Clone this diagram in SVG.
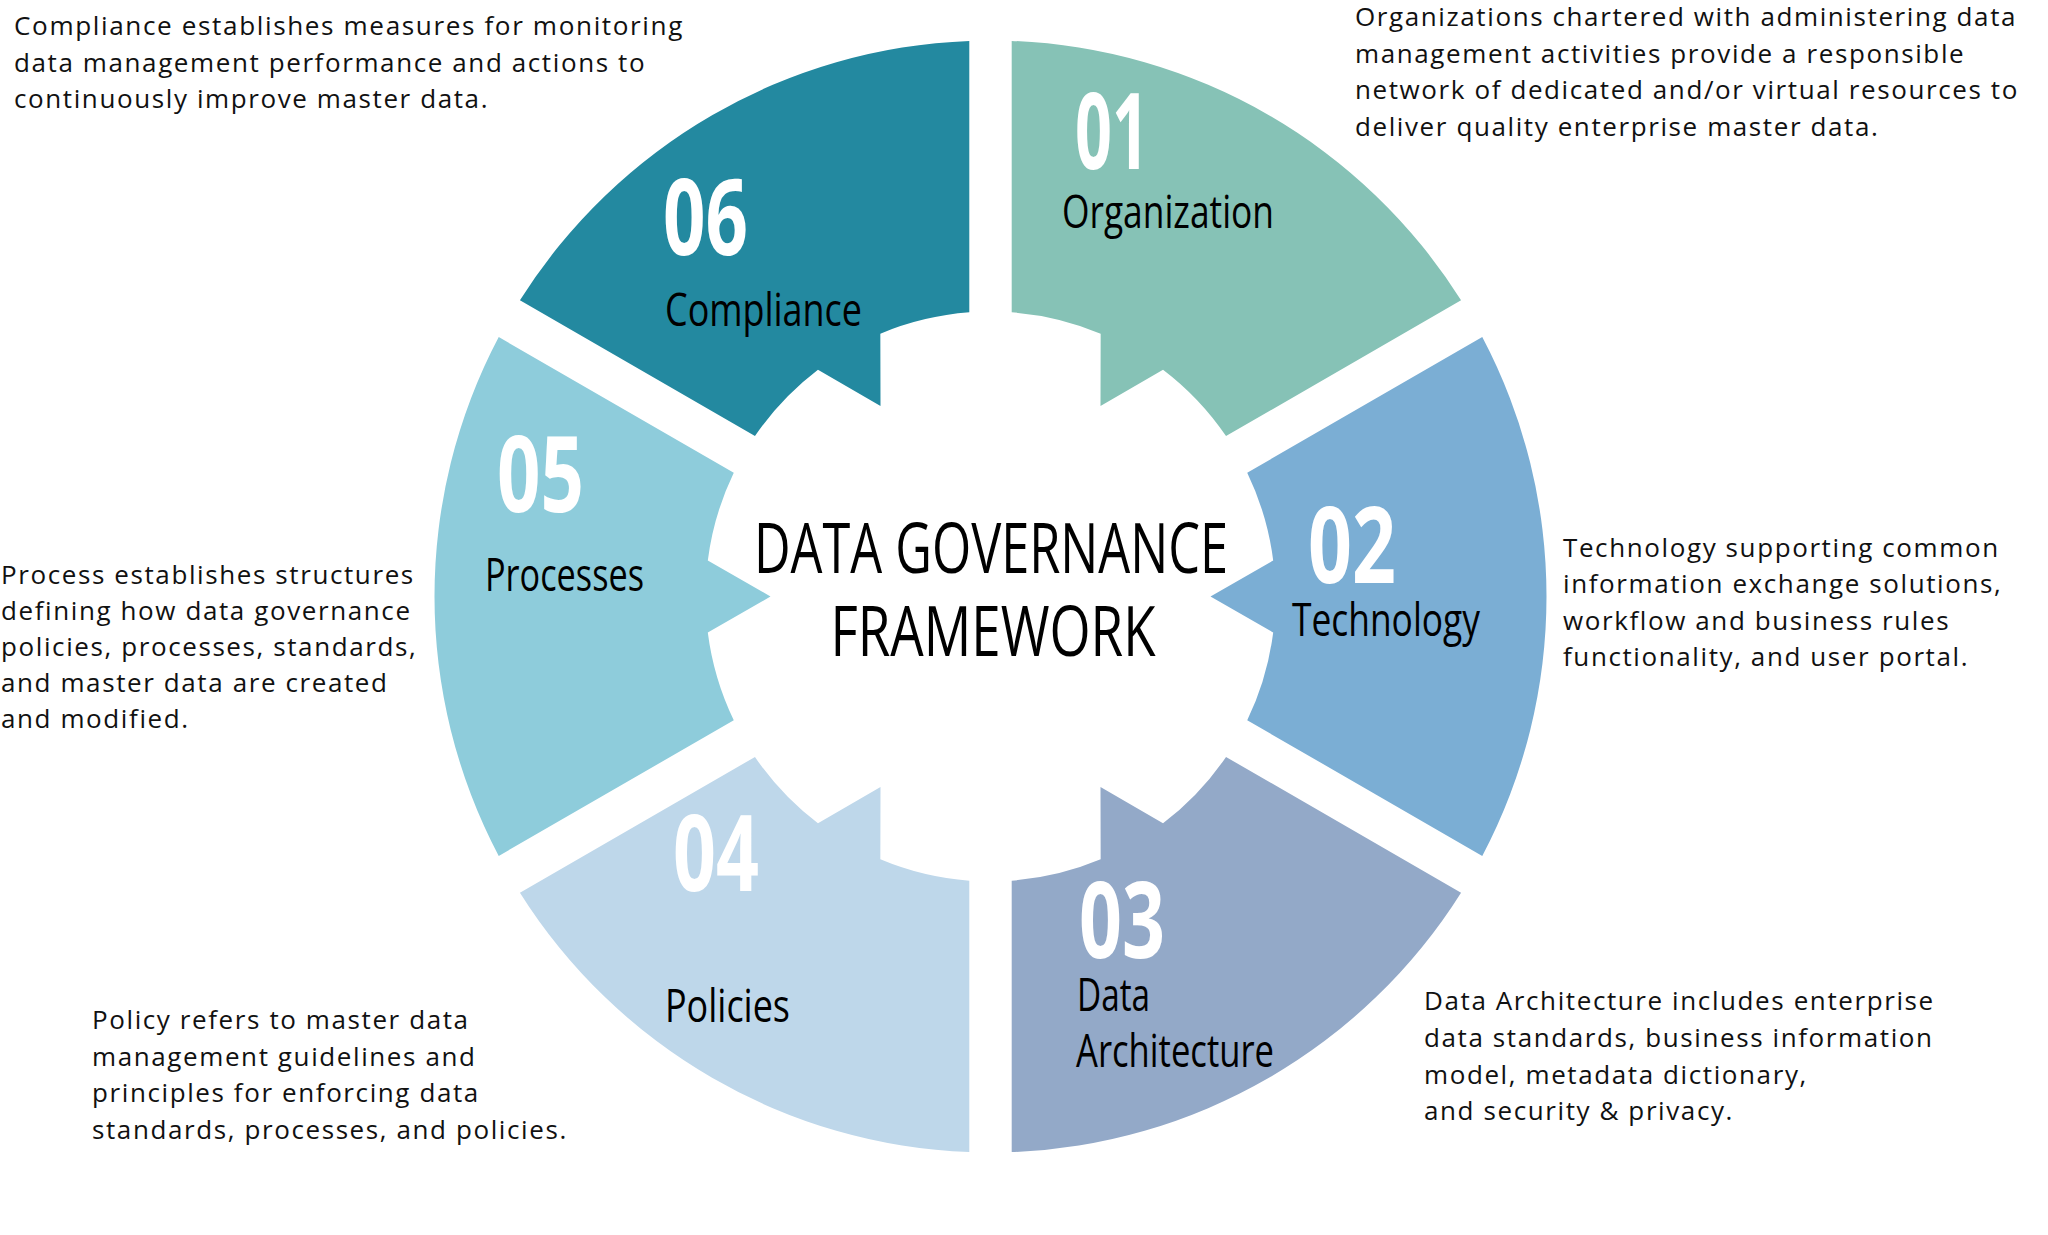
<svg xmlns="http://www.w3.org/2000/svg" width="2048" height="1235" viewBox="0 0 2048 1235">
  <style>
    .seg { stroke: none; }
    .num { font-family: "Open Sans", "Liberation Sans", sans-serif; font-weight: 700; font-size: 105px; fill: #ffffff; }
    .lbl { font-family: "Open Sans", "Liberation Sans", sans-serif; font-weight: 400; font-size: 46px; fill: #000000; }
    .title { font-family: "Open Sans", "Liberation Sans", sans-serif; font-weight: 400; font-size: 70px; fill: #000000; }
    .desc { font-family: "Open Sans", "Liberation Sans", sans-serif; font-weight: 400; font-size: 26px; letter-spacing: 1.6px; fill: #111111; }
  </style>
  <rect x="0" y="0" width="2048" height="1235" fill="#ffffff"/>

  <g id="node-01">
    <path class="seg" fill="#86C2B6" d="M 1461.06 300.34 A 556 556 0 0 0 1011.7 40.9 L 1011.7 312.29 A 285 285 0 0 1 1100.67 333.67 L 1100.5 405.97 L 1163.03 369.67 A 285 285 0 0 1 1226.03 436.04 Z"/>
    <text class="num" x="1075" y="169" textLength="74" lengthAdjust="spacingAndGlyphs">01</text>
    <text class="lbl" x="1062" y="228" textLength="212" lengthAdjust="spacingAndGlyphs">Organization</text>
    <text class="desc" x="1355" y="26">Organizations chartered with administering data</text>
    <text class="desc" x="1355" y="62.5">management activities provide a responsible</text>
    <text class="desc" x="1355" y="99">network of dedicated and/or virtual resources to</text>
    <text class="desc" x="1355" y="135.5">deliver quality enterprise master data.</text>
  </g>

  <g id="node-02">
    <path class="seg" fill="#7BAED4" d="M 1482.26 855.94 A 556 556 0 0 0 1482.26 337.06 L 1247.23 472.76 A 285 285 0 0 1 1273.2 560.5 L 1210.5 596.5 L 1273.2 632.5 A 285 285 0 0 1 1247.23 720.245 Z"/>
    <text class="num" x="1308" y="583" textLength="88" lengthAdjust="spacingAndGlyphs">02</text>
    <text class="lbl" x="1292" y="636" textLength="188" lengthAdjust="spacingAndGlyphs">Technology</text>
    <text class="desc" x="1563" y="557">Technology supporting common</text>
    <text class="desc" x="1563" y="593">information exchange solutions,</text>
    <text class="desc" x="1563" y="630">workflow and business rules</text>
    <text class="desc" x="1563" y="666">functionality, and user portal.</text>
  </g>

  <g id="node-03">
    <path class="seg" fill="#93A9C8" d="M 1011.7 1152.1 A 556 556 0 0 0 1461.06 892.66 L 1226.03 756.965 A 285 285 0 0 1 1163.03 823.33 L 1100.5 787.03 L 1100.67 859.33 A 285 285 0 0 1 1011.7 880.71 Z"/>
    <text class="num" x="1079" y="958" textLength="86" lengthAdjust="spacingAndGlyphs">03</text>
    <text class="lbl" x="1077" y="1011" textLength="73" lengthAdjust="spacingAndGlyphs">Data</text>
    <text class="lbl" x="1076" y="1067" textLength="198" lengthAdjust="spacingAndGlyphs">Architecture</text>
    <text class="desc" x="1424" y="1010">Data Architecture includes enterprise</text>
    <text class="desc" x="1424" y="1047">data standards, business information</text>
    <text class="desc" x="1424" y="1084">model, metadata dictionary,</text>
    <text class="desc" x="1424" y="1120">and security &amp; privacy.</text>
  </g>

  <g id="node-04">
    <path class="seg" fill="#BED7EA" d="M 519.94 892.66 A 556 556 0 0 0 969.3 1152.1 L 969.3 880.71 A 285 285 0 0 1 880.33 859.33 L 880.5 787.03 L 817.97 823.33 A 285 285 0 0 1 754.97 756.965 Z"/>
    <text class="num" x="673" y="891" textLength="86" lengthAdjust="spacingAndGlyphs">04</text>
    <text class="lbl" x="665" y="1022" textLength="125" lengthAdjust="spacingAndGlyphs">Policies</text>
    <text class="desc" x="92" y="1029">Policy refers to master data</text>
    <text class="desc" x="92" y="1065.5">management guidelines and</text>
    <text class="desc" x="92" y="1102">principles for enforcing data</text>
    <text class="desc" x="92" y="1138.5">standards, processes, and policies.</text>
  </g>

  <g id="node-05">
    <path class="seg" fill="#8ECCDB" d="M 498.74 337.06 A 556 556 0 0 0 498.74 855.94 L 733.77 720.245 A 285 285 0 0 1 707.8 632.5 L 770.5 596.5 L 707.8 560.5 A 285 285 0 0 1 733.77 472.755 Z"/>
    <text class="num" x="497" y="512" textLength="87" lengthAdjust="spacingAndGlyphs">05</text>
    <text class="lbl" x="485" y="591" textLength="159" lengthAdjust="spacingAndGlyphs">Processes</text>
    <text class="desc" x="1" y="584">Process establishes structures</text>
    <text class="desc" x="1" y="620">defining how data governance</text>
    <text class="desc" x="1" y="656">policies, processes, standards,</text>
    <text class="desc" x="1" y="692">and master data are created</text>
    <text class="desc" x="1" y="728">and modified.</text>
  </g>

  <g id="node-06">
    <path class="seg" fill="#2389A0" d="M 969.3 40.9 A 556 556 0 0 0 519.94 300.34 L 754.97 436.035 A 285 285 0 0 1 817.97 369.67 L 880.5 405.97 L 880.33 333.67 A 285 285 0 0 1 969.3 312.29 Z"/>
    <text class="num" x="663" y="255" textLength="85" lengthAdjust="spacingAndGlyphs">06</text>
    <text class="lbl" x="665" y="326" textLength="197" lengthAdjust="spacingAndGlyphs">Compliance</text>
    <text class="desc" x="14" y="35" textLength="670" lengthAdjust="spacingAndGlyphs">Compliance establishes measures for monitoring</text>
    <text class="desc" x="14" y="71.5">data management performance and actions to</text>
    <text class="desc" x="14" y="108">continuously improve master data.</text>
  </g>

  <g id="center-title">
    <text class="title" x="991" y="573" text-anchor="middle" textLength="474" lengthAdjust="spacingAndGlyphs">DATA GOVERNANCE</text>
    <text class="title" x="993" y="656" text-anchor="middle" textLength="325" lengthAdjust="spacingAndGlyphs">FRAMEWORK</text>
  </g>
</svg>
